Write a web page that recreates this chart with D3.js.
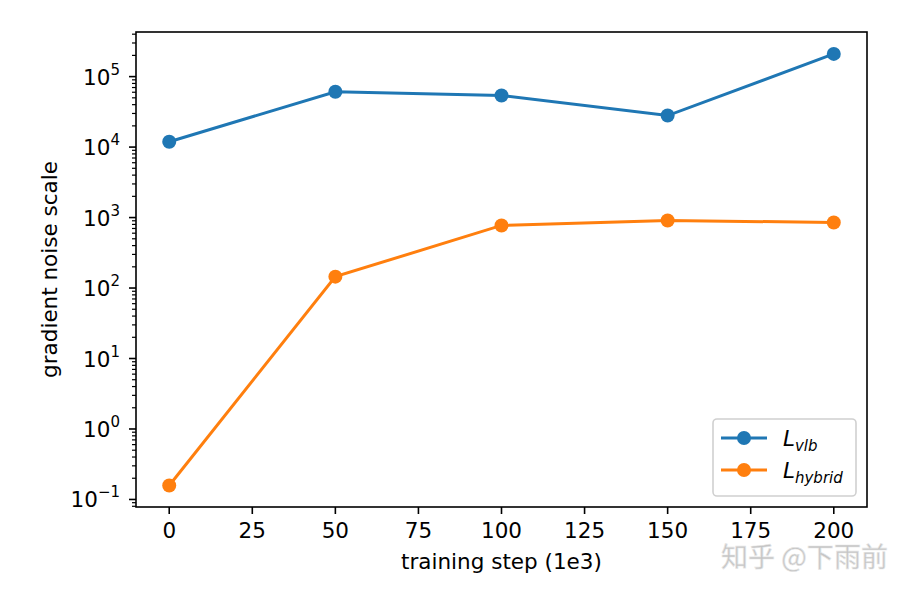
<!DOCTYPE html>
<html>
<head>
<meta charset="utf-8">
<script src="https://cdn.jsdelivr.net/npm/d3@7"></script>
<style>
  body { margin: 0; background: #fff; }
  svg text { font-family: "DejaVu Sans", sans-serif; fill: #000; }
</style>
</head>
<body>
<svg id="chart" width="912" height="594"></svg>
<script>
// data
const steps = [0, 50, 100, 150, 200];
const vlbValues = [11900, 61000, 54000, 28000, 210000];
const hybridValues = [0.158, 145, 773, 910, 851];
const xTicks = [0, 25, 50, 75, 100, 125, 150, 175, 200];
const yExponents = [-1, 0, 1, 2, 3, 4, 5];

const series = [
    { name: 'vlb', values: vlbValues, color: '#1f77b4' },
    { name: 'hybrid', values: hybridValues, color: '#ff7f0e' }
];

const margin = { left: 136, right: 867, top: 32, bottom: 507 };
const fs = '21.5px';
const svg = d3.select('#chart');

const x = d3.scaleLinear().domain([-10, 210]).range([margin.left, margin.right]);
const y = d3.scaleLog().domain([Math.pow(10, -1.107), Math.pow(10, 5.633)]).range([margin.bottom, margin.top]);

// x axis
const xAxis = svg.append('g').attr('transform', `translate(0,${margin.bottom})`);
xAxis.selectAll('line').data(xTicks).enter().append('line')
    .attr('x1', d => x(d)).attr('x2', d => x(d))
    .attr('y1', 0).attr('y2', 7)
    .attr('stroke', '#000').attr('stroke-width', 1.6);
xAxis.selectAll('text').data(xTicks).enter().append('text')
    .attr('x', d => x(d)).attr('y', 31)
    .attr('text-anchor', 'middle')
    .style('font-size', fs)
    .text(d => d);

// y axis: major ticks
const yAxis = svg.append('g').attr('transform', `translate(${margin.left},0)`);
yAxis.selectAll('line.major').data(yExponents).enter().append('line')
    .attr('class', 'major')
    .attr('x1', 0).attr('x2', -7)
    .attr('y1', d => y(Math.pow(10, d))).attr('y2', d => y(Math.pow(10, d)))
    .attr('stroke', '#000').attr('stroke-width', 1.6);

// minor ticks
const minor = [];
for (let e = -2; e <= 5; e++) {
    for (let m = 2; m <= 9; m++) {
        const v = m * Math.pow(10, e);
        if (v >= y.domain()[0] && v <= y.domain()[1]) minor.push(v);
    }
}
yAxis.selectAll('line.minor').data(minor).enter().append('line')
    .attr('class', 'minor')
    .attr('x1', 0).attr('x2', -4)
    .attr('y1', d => y(d)).attr('y2', d => y(d))
    .attr('stroke', '#000').attr('stroke-width', 1.2);

const yLabels = yAxis.selectAll('text').data(yExponents).enter().append('text')
    .attr('x', -16).attr('y', d => y(Math.pow(10, d)) + 8)
    .attr('text-anchor', 'end')
    .style('font-size', fs);
yLabels.append('tspan').text('10');
yLabels.append('tspan')
    .attr('dy', -10)
    .style('font-size', '15px')
    .text(d => d < 0 ? '\u2212' + Math.abs(d) : d);

// lines and markers
const line = d3.line().x((d, i) => x(steps[i])).y(d => y(d));
series.forEach(s => {
    svg.append('path')
        .datum(s.values)
        .attr('d', line)
        .attr('fill', 'none')
        .attr('stroke', s.color)
        .attr('stroke-width', 3);
    svg.selectAll(null).data(s.values).enter().append('circle')
        .attr('cx', (d, i) => x(steps[i]))
        .attr('cy', d => y(d))
        .attr('r', 7)
        .attr('fill', s.color);
});

// frame
svg.append('rect')
    .attr('x', margin.left).attr('y', margin.top)
    .attr('width', margin.right - margin.left)
    .attr('height', margin.bottom - margin.top)
    .attr('fill', 'none').attr('stroke', '#000').attr('stroke-width', 1.6);

// axis labels
svg.append('text')
    .attr('x', (margin.left + margin.right) / 2).attr('y', 569)
    .attr('text-anchor', 'middle')
    .style('font-size', fs)
    .text('training step (1e3)');
svg.append('text')
    .attr('transform', `translate(57,${(margin.top + margin.bottom) / 2}) rotate(-90)`)
    .attr('text-anchor', 'middle')
    .style('font-size', fs)
    .text('gradient noise scale');

// legend
const legend = svg.append('g');
legend.append('rect')
    .attr('x', 713).attr('y', 419).attr('width', 143).attr('height', 77)
    .attr('rx', 4)
    .attr('fill', 'rgba(255,255,255,0.8)')
    .attr('stroke', '#d0d0d0').attr('stroke-width', 1.6);
series.forEach((s, i) => {
    const ly = 438 + i * 32;
    legend.append('line')
        .attr('x1', 721).attr('x2', 767).attr('y1', ly).attr('y2', ly)
        .attr('stroke', s.color).attr('stroke-width', 3);
    legend.append('circle').attr('cx', 744).attr('cy', ly).attr('r', 7).attr('fill', s.color);
    const t = legend.append('text')
        .attr('x', 783).attr('y', ly + 8)
        .style('font-size', fs)
        .style('font-style', 'italic');
    t.append('tspan').text('L');
    t.append('tspan').attr('dy', 5).style('font-size', '15px').text(s.name);
});

// watermark
svg.append('text')
    .attr('x', 721).attr('y', 567)
    .style('font-family', '"Noto Sans CJK SC", sans-serif')
    .style('font-size', '27px')
    .style('fill', '#c4c4c4')
    .attr('stroke', '#e6e6e6').attr('stroke-width', 0.6)
    .attr('textLength', 167)
    .text('知乎 @下雨前');
</script>
</body>
</html>
